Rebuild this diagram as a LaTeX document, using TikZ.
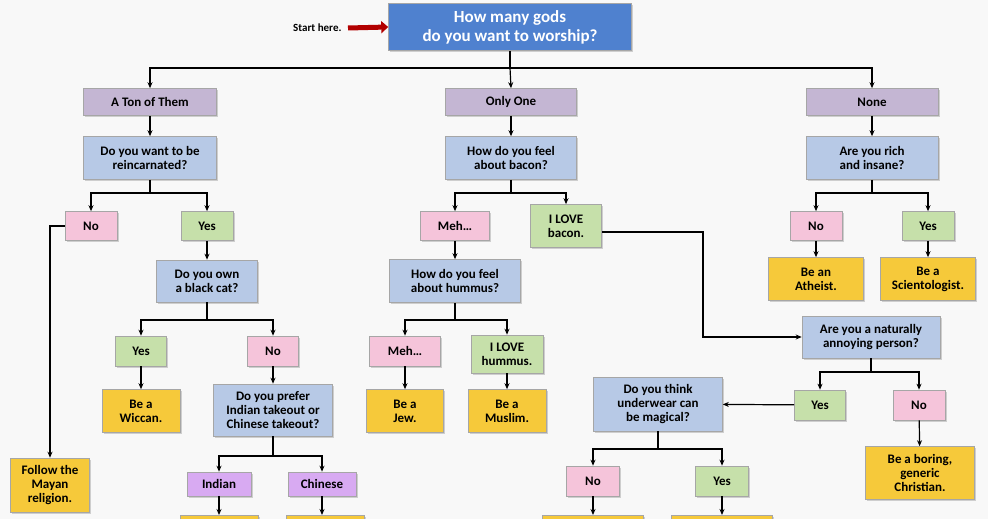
\documentclass[tikz,border=0pt]{standalone}
\usepackage{fontspec}
\setmainfont{Carlito}
\usetikzlibrary{shadows,arrows.meta}
\definecolor{topb}{HTML}{4F81CF}
\definecolor{qb}{HTML}{B7C9E6}
\definecolor{cat}{HTML}{C4B6D3}
\definecolor{pk}{HTML}{F5C4DA}
\definecolor{gr}{HTML}{C6E0AA}
\definecolor{yl}{HTML}{F6C93A}
\definecolor{pu}{HTML}{D8AAF2}
\definecolor{bg}{HTML}{F8F8F8}
\tikzset{
 bx/.style={draw=gray!70,line width=0.6pt,align=center,font=\bfseries\fontsize{13}{14}\selectfont,inner sep=0pt,drop shadow={shadow xshift=1.5pt,shadow yshift=-1.5pt,opacity=0.35}},
 b/.style args={#1/#2/#3}{bx,fill=#1,minimum width=#2,minimum height=#3},
 ln/.style={line width=1.2pt,draw=black},
 ar/.style={ln,-{Stealth[length=6pt,width=5pt]}}
}
\begin{document}
\begin{tikzpicture}[x=1pt,y=-1pt]
\fill[bg] (0,0) rectangle (988,519);
\useasboundingbox (0,0) rectangle (988,519);
\begin{scope}
\clip (0,0) rectangle (988,519);
\node[b=topb/243pt/47pt,text=white,font=\bfseries\fontsize{17}{19}\selectfont] (top) at (510,27) {How many gods\\do you want to worship?};
\node[font=\bfseries\fontsize{11}{12}\selectfont,anchor=east] (start) at (345,28) {Start here.};
\draw[-{Triangle[length=7pt,width=12pt]},line width=5pt,red!70!black] (start.east)++(3,0) coordinate (sa) -- (top.west);
\node[b=cat/133pt/27pt] (ton) at (150,102) {A Ton of Them};
\node[b=cat/131pt/27pt] (one) at (511,102) {Only One};
\node[b=cat/132pt/27pt] (none) at (872,102) {None};
\node[b=qb/133pt/43pt] (rein) at (150,158) {Do you want to be\\reincarnated?};
\node[b=qb/131pt/43pt] (bacon) at (511,158) {How do you feel\\about bacon?};
\node[b=qb/132pt/43pt] (rich) at (872,158) {Are you rich\\and insane?};
\node[b=pk/52pt/29pt] (rno) at (91,226) {No};
\node[b=gr/52pt/29pt] (ryes) at (207,226) {Yes};
\node[b=pk/69pt/29pt] (bmeh) at (455,226) {Meh\dots};
\node[b=gr/71pt/43pt] (blove) at (566,226) {I LOVE\\bacon.};
\node[b=pk/52pt/29pt] (ino) at (816,226) {No};
\node[b=gr/52pt/29pt] (iyes) at (928,226) {Yes};
\node[b=yl/95pt/43pt] (ath) at (816,279) {Be an\\Atheist.};
\node[b=yl/95pt/43pt] (sci) at (928,279) {Be a\\Scientologist.};
\node[b=qb/101pt/42pt] (cat) at (207,281) {Do you own\\a black cat?};
\node[b=qb/131pt/43pt] (hum) at (455,281) {How do you feel\\about hummus?};
\node[b=gr/51pt/30pt] (cyes) at (141,351) {Yes};
\node[b=pk/51pt/30pt] (cno) at (273,351) {No};
\node[b=pk/71pt/30pt] (hmeh) at (405,351) {Meh\dots};
\node[b=gr/72pt/38pt] (hlove) at (507,354) {I LOVE\\hummus.};
\node[b=yl/78pt/43pt] (wic) at (141,411) {Be a\\Wiccan.};
\node[b=qb/119pt/52pt] (take) at (273,410) {Do you prefer\\Indian takeout or\\Chinese takeout?};
\node[b=yl/77pt/43pt] (jew) at (405,411) {Be a\\Jew.};
\node[b=yl/78pt/43pt] (mus) at (507,411) {Be a\\Muslim.};
\node[b=pu/64pt/24pt] (ind) at (219,484) {Indian};
\node[b=pu/68pt/24pt] (chi) at (322,484) {Chinese};
\node[b=yl/78pt/30pt] (indr) at (219,530) {};
\node[b=yl/78pt/30pt] (chir) at (325,530) {};
\node[b=yl/79pt/54pt] (may) at (50,485) {Follow the\\Mayan\\religion.};
\node[b=qb/138pt/42pt] (ann) at (871,337) {Are you a naturally\\annoying person?};
\node[b=gr/51pt/30pt] (ayes) at (820,405) {Yes};
\node[b=pk/52pt/30pt] (ano) at (919,405) {No};
\node[b=qb/129pt/54pt] (und) at (658,404) {Do you think\\underwear can\\be magical?};
\node[b=yl/109pt/53pt] (chr) at (920,473) {Be a boring,\\generic\\Christian.};
\node[b=pk/53pt/30pt] (uno) at (593,481) {No};
\node[b=gr/53pt/30pt] (uyes) at (722,481) {Yes};
\node[b=yl/101pt/30pt] (unor) at (593,530) {};
\node[b=yl/101pt/30pt] (uyesr) at (722,530) {};
\end{scope}
% connectors
\draw[ln] (top.south) -- (510,68) coordinate (j1);
\draw[ar] (j1) -| (ton.north);
\draw[ar] (j1) -- (one.north);
\draw[ar] (j1) -| (none.north);
\draw[ar] (ton) -- (rein);
\draw[ar] (one) -- (bacon);
\draw[ar] (none) -- (rich);
\draw[ln] (rein.south) -- (150,193) coordinate (j2);
\draw[ar] (j2) -| (rno.north);
\draw[ar] (j2) -| (ryes.north);
\draw[ln] (bacon.south) -- (511,193) coordinate (j3);
\draw[ar] (j3) -| (bmeh.north);
\draw[ar] (j3) -| (blove.north);
\draw[ln] (rich.south) -- (872,193) coordinate (j4);
\draw[ar] (j4) -| (ino.north);
\draw[ar] (j4) -| (iyes.north);
\draw[ar] (ino) -- (ath);
\draw[ar] (iyes) -- (sci);
\draw[ar] (ryes) -- (cat);
\draw[ar] (bmeh) -- (hum);
\draw[ar] (rno.west) -| (may.north);
\draw[ln] (cat.south) -- (207,320) coordinate (j5);
\draw[ar] (j5) -| (cyes.north);
\draw[ar] (j5) -| (cno.north);
\draw[ln] (hum.south) -- (455,320) coordinate (j6);
\draw[ar] (j6) -| (hmeh.north);
\draw[ar] (j6) -| (hlove.north);
\draw[ar] (cyes) -- (wic);
\draw[ar] (cno) -- (take);
\draw[ar] (hmeh) -- (jew);
\draw[ar] (hlove) -- (mus);
\draw[ln] (take.south) -- (273,456) coordinate (j7);
\draw[ar] (j7) -| (ind.north);
\draw[ar] (j7) -| (chi.north);
\draw[ar] (ind.south) -- (219,515);
\draw[ar] (chi.south) -- (322,515);
\draw[ar] (blove.east |- 0,232) -- (703,232) |- (ann.west);
\draw[ln] (ann.south) -- (871,372) coordinate (j8);
\draw[ar] (j8) -| (ayes.north);
\draw[ar] (j8) -| (ano.north);
\draw[ar] (ayes) -- (und);
\draw[ar] (ano) -- (chr);
\draw[ln] (und.south) -- (658,449) coordinate (j9);
\draw[ar] (j9) -| (uno.north);
\draw[ar] (j9) -| (uyes.north);
\draw[ar] (uno.south) -- (593,515);
\draw[ar] (uyes.south) -- (722,515);
\end{tikzpicture}
\end{document}
